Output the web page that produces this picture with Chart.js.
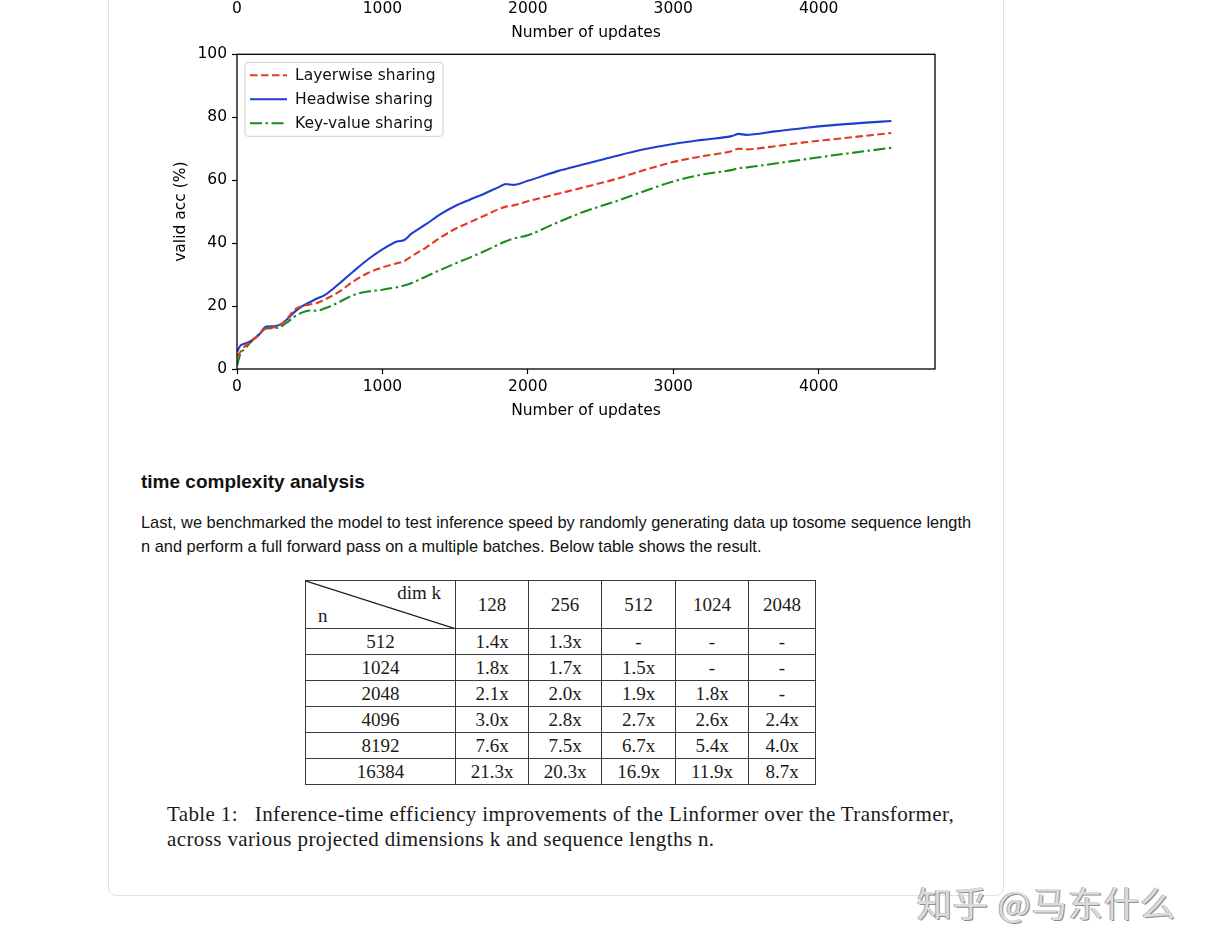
<!DOCTYPE html>
<html>
<head>
<meta charset="utf-8">
<title>Linformer sharing</title>
<script src="https://cdn.jsdelivr.net/npm/chart.js@4.4.0/dist/chart.umd.min.js"></script>
<style>
    html, body {
        margin: 0;
        padding: 0;
        background: #fff;
        width: 1208px;
        height: 950px;
        overflow: hidden;
        position: relative;
    }
    .card {
        position: absolute;
        left: 108px;
        top: -30px;
        width: 896px;
        height: 926px;
        border: 1px solid #e2e2e2;
        border-radius: 8px;
        box-sizing: border-box;
    }
    .chart-box {
        position: absolute;
        left: 150px;
        width: 800px;
        height: 390px;
    }
    #topChartBox { top: -338px; }
    #accChartBox { top: 40px; }
    h3 {
        position: absolute;
        left: 141px;
        top: 469px;
        margin: 0;
        font: bold 19px/26px 'Liberation Sans', Arial, sans-serif;
        color: #121212;
    }
    p.text {
        position: absolute;
        left: 141px;
        top: 510px;
        margin: 0;
        font: 16.4px/24px 'Liberation Sans', Arial, sans-serif;
        color: #121212;
        white-space: nowrap;
    }
    table.speed {
        position: absolute;
        left: 305px;
        top: 580px;
        border-collapse: collapse;
        font-family: 'Liberation Serif', 'DejaVu Serif', serif;
        font-size: 19px;
        color: #1a1a1a;
    }
    table.speed td {
        border: 1px solid #3a3a3a;
        text-align: center;
        padding: 0;
        height: 25px;
        line-height: 25px;
    }
    table.speed tr.head td { height: 47px; }
    td.corner { position: relative; }
    td.corner svg { position: absolute; left: 0; top: 0; }
    td.corner .k { position: absolute; right: 14px; top: 0; line-height: 24px; }
    td.corner .n { position: absolute; left: 12px; bottom: 0; line-height: 24px; }
    .caption {
        position: absolute;
        left: 167px;
        top: 802px;
        margin: 0;
        font: 21px/25px 'Liberation Serif', serif;
        letter-spacing: 0.38px;
        color: #1a1a1a;
        white-space: nowrap;
    }
    .watermark {
        position: absolute;
        left: 917px;
        top: 880px;
        font: 35px/44px 'Noto Sans CJK SC', sans-serif;
        color: #dcdcdc;
        text-shadow: 1px 1px 0 #8c8c8c, -1px 0 0 #a8a8a8;
        white-space: nowrap;
        letter-spacing: 1px;
    }
</style>
</head>
<body>
<div class="card"></div>

<div class="chart-box" id="topChartBox"><canvas id="topChart" width="800" height="390"></canvas></div>
<div class="chart-box" id="accChartBox"><canvas id="accChart" width="800" height="390"></canvas></div>

<h3>time complexity analysis</h3>
<p class="text">Last, we benchmarked the model to test inference speed by randomly generating data up tosome sequence length<br>n and perform a full forward pass on a multiple batches. Below table shows the result.</p>

<table class="speed" id="speedTable"></table>

<p class="caption">Table 1:&nbsp;&nbsp; Inference-time efficiency improvements of the Linformer over the Transformer,<br>across various projected dimensions k and sequence lengths n.</p>

<div class="watermark">知乎 @马东什么</div>

<script>
// ---------------------------------------------------------------
// Data
// ---------------------------------------------------------------

const updates = [0, 25, 50, 100, 150, 200, 250, 300, 350, 400, 450, 500, 550, 600,
    700, 800, 900, 1000, 1100, 1150, 1200, 1300, 1400, 1500, 1600, 1700, 1800, 1850,
    1900, 2000, 2200, 2400, 2600, 2800, 3000, 3200, 3400, 3450, 3500, 3700, 3900,
    4100, 4300, 4500];

const layerwise = [4.0, 5.5, 7.0, 9.0, 10.8, 13.0, 13.2, 14.0, 16.3, 19.0, 20.0, 20.5, 21.0, 22.0,
    24.5, 27.8, 30.5, 32.3, 33.6, 34.3, 35.8, 38.6, 41.8, 44.5, 46.6, 48.7, 50.8, 51.6,
    52.0, 53.3, 55.6, 57.9, 60.3, 63.2, 65.8, 67.6, 69.2, 70.0, 69.8, 70.8, 72.0,
    73.0, 74.0, 75.0];

const headwise = [5.5, 7.5, 8.0, 9.0, 10.8, 13.5, 13.6, 14.2, 16.0, 18.3, 20.0, 21.2, 22.4, 23.4,
    27.0, 31.0, 34.8, 38.0, 40.5, 41.0, 43.0, 46.0, 49.2, 51.8, 53.8, 55.7, 57.8, 58.8,
    58.5, 59.8, 62.8, 65.2, 67.6, 69.8, 71.5, 72.8, 74.0, 74.7, 74.4, 75.5, 76.6,
    77.5, 78.2, 78.8];

const keyValue = [1.0, 5.0, 6.2, 8.8, 11.0, 12.9, 13.0, 13.4, 15.0, 16.8, 18.0, 18.6, 18.5, 19.2,
    21.2, 23.5, 24.6, 25.2, 26.0, 26.5, 27.3, 29.4, 31.5, 33.5, 35.4, 37.4, 39.6, 40.6,
    41.4, 42.5, 46.5, 50.2, 53.2, 56.5, 59.6, 61.8, 63.2, 63.8, 64.0, 65.3, 66.6,
    67.9, 69.1, 70.3];

const xTicks = [0, 1000, 2000, 3000, 4000];
const yTicks = [0, 20, 40, 60, 80, 100];

// speed-up table
const dimK = ['128', '256', '512', '1024', '2048'];
const seqN = ['512', '1024', '2048', '4096', '8192', '16384'];
const speedups = [
    ['1.4x', '1.3x', '-', '-', '-'],
    ['1.8x', '1.7x', '1.5x', '-', '-'],
    ['2.1x', '2.0x', '1.9x', '1.8x', '-'],
    ['3.0x', '2.8x', '2.7x', '2.6x', '2.4x'],
    ['7.6x', '7.5x', '6.7x', '5.4x', '4.0x'],
    ['21.3x', '20.3x', '16.9x', '11.9x', '8.7x']
];

// ---------------------------------------------------------------
// Chart.js defaults (matplotlib look)
// ---------------------------------------------------------------

Chart.defaults.font.family = "'DejaVu Sans', sans-serif";
Chart.defaults.font.size = 15.5;
Chart.defaults.color = '#000';

const COLORS = {
    layer: '#e03c24',
    head: '#1f3ed0',
    kv: '#1b8c1b'
};

// frame around the axes + boxed legend in the upper left
const framePlugin = {
    id: 'mplFrame',
    afterDatasetsDraw(chart, args, opts) {
        const { ctx, chartArea: a } = chart;
        ctx.save();
        ctx.strokeStyle = '#000';
        ctx.lineWidth = 1.3;
        ctx.strokeRect(a.left, a.top, a.right - a.left, a.bottom - a.top);

        if (opts.legend) {
            const bx = a.left + 8, by = a.top + 8, bw = 198, bh = 74;
            ctx.beginPath();
            ctx.roundRect(bx, by, bw, bh, 3);
            ctx.fillStyle = 'rgba(255,255,255,0.85)';
            ctx.fill();
            ctx.strokeStyle = '#d0d0d0';
            ctx.lineWidth = 1;
            ctx.stroke();

            ctx.font = "15.5px 'DejaVu Sans', sans-serif";
            ctx.textBaseline = 'middle';
            chart.data.datasets.forEach((ds, i) => {
                const y = by + 13 + i * 24;
                ctx.beginPath();
                ctx.setLineDash(ds.borderDash || []);
                ctx.strokeStyle = ds.borderColor;
                ctx.lineWidth = ds.borderWidth;
                ctx.moveTo(bx + 5, y);
                ctx.lineTo(bx + 42, y);
                ctx.stroke();
                ctx.setLineDash([]);
                ctx.fillStyle = '#111';
                ctx.fillText(ds.label, bx + 50, y + 1);
            });
        }
        ctx.restore();
    }
};

function buildScales(showYLabels) {
    return {
        x: {
            type: 'linear',
            min: 0,
            max: 4800,
            afterBuildTicks: s => { s.ticks = xTicks.map(v => ({ value: v })); },
            afterFit: s => { s.height = 61; },
            grid: { drawOnChartArea: false, drawTicks: true, tickLength: 5, tickColor: '#000', tickWidth: 1.2 },
            border: { display: false },
            ticks: { padding: 4, maxRotation: 0, autoSkip: false, callback: v => String(v) },
            title: { display: true, text: 'Number of updates', padding: { top: 0, bottom: 10 } }
        },
        y: {
            min: 0,
            max: 100,
            afterBuildTicks: s => { s.ticks = yTicks.map(v => ({ value: v })); },
            afterFit: s => { s.width = 87; },
            grid: { drawOnChartArea: false, drawTicks: true, tickLength: 5, tickColor: '#000', tickWidth: 1.2 },
            border: { display: false },
            ticks: { display: showYLabels, padding: 5, callback: v => String(v) },
            title: { display: showYLabels, text: 'valid acc (%)', padding: { top: 22, bottom: 0 } }
        }
    };
}

function toPoints(values) {
    return updates.map((u, i) => ({ x: u, y: values[i] }));
}

function makeDataset(label, values, color, dash) {
    return {
        label: label,
        data: toPoints(values),
        borderColor: color,
        borderWidth: 2.1,
        borderDash: dash,
        pointRadius: 0,
        fill: false,
        cubicInterpolationMode: 'monotone'
    };
}

// ---------------------------------------------------------------
// Upper chart (only its x axis is still in view)
// ---------------------------------------------------------------

new Chart(document.getElementById('topChart'), {
    type: 'line',
    data: { datasets: [] },
    options: {
        responsive: false,
        animation: false,
        layout: { padding: { left: 0, right: 15, top: 13, bottom: 0 } },
        plugins: { legend: { display: false }, tooltip: { enabled: false }, mplFrame: { legend: false } },
        scales: buildScales(false)
    },
    plugins: [framePlugin]
});

// ---------------------------------------------------------------
// Validation accuracy chart
// ---------------------------------------------------------------

new Chart(document.getElementById('accChart'), {
    type: 'line',
    data: {
        datasets: [
            makeDataset('Layerwise sharing', layerwise, COLORS.layer, [7.5, 3.5]),
            makeDataset('Headwise sharing', headwise, COLORS.head, []),
            makeDataset('Key-value sharing', keyValue, COLORS.kv, [12, 3.5, 2.5, 3.5])
        ]
    },
    options: {
        responsive: false,
        animation: false,
        layout: { padding: { left: 0, right: 15, top: 13, bottom: 0 } },
        plugins: { legend: { display: false }, tooltip: { enabled: false }, mplFrame: { legend: true } },
        scales: buildScales(true)
    },
    plugins: [framePlugin]
});

// ---------------------------------------------------------------
// Speed-up table
// ---------------------------------------------------------------

const colWidths = [149, 72, 72, 73, 72, 66];
const table = document.getElementById('speedTable');
let html = '<tr class="head"><td class="corner" style="width:' + colWidths[0] + 'px">' +
    '<svg width="150" height="48"><line x1="0" y1="0" x2="150" y2="48" stroke="#222" stroke-width="1.2"/></svg>' +
    '<span class="k">dim k</span><span class="n">n</span></td>';
dimK.forEach((k, i) => { html += '<td style="width:' + colWidths[i + 1] + 'px">' + k + '</td>'; });
html += '</tr>';
seqN.forEach((n, r) => {
    html += '<tr><td>' + n + '</td>' + speedups[r].map(s => '<td>' + s + '</td>').join('') + '</tr>';
});
table.innerHTML = html;
</script>
</body>
</html>
